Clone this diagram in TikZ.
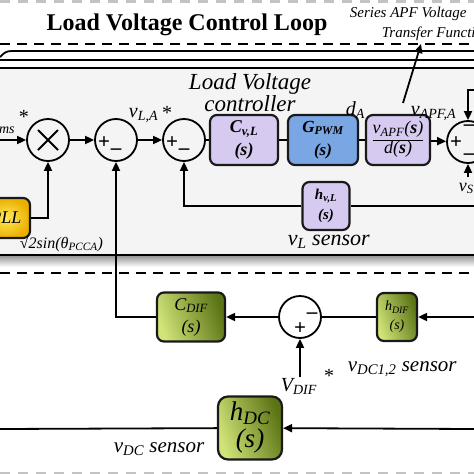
\documentclass[tikz,border=0pt]{standalone}
\usepackage{fontspec}
\setmainfont{Liberation Serif}
\usetikzlibrary{arrows.meta}
\definecolor{panel}{RGB}{244,244,244}
\definecolor{lav}{RGB}{214,202,240}
\definecolor{pblue}{RGB}{122,166,228}
\definecolor{gA}{RGB}{208,228,120}
\definecolor{gB}{RGB}{90,115,20}
\definecolor{yA}{RGB}{255,235,90}
\definecolor{yB}{RGB}{235,175,0}
\definecolor{dgray}{RGB}{195,195,195}
\newcommand\fs[1]{\fontsize{#1}{#1}\selectfont}
\newcommand\sbs[1]{\textsubscript{#1}}
\begin{document}
\begin{tikzpicture}[x=1pt,y=-1pt,line width=1.8pt,
  arr/.style={-{Triangle[length=9pt,width=8pt]}},
  blk/.style={draw=black!90,line width=2.2pt,rounded corners=7pt,inner sep=0pt,align=center},
  lavbox/.style={blk,fill=lav},
  greenbox/.style={blk,left color=gA,right color=gB,shading angle=110},
  sumc/.style={circle,draw,line width=1.8pt,minimum size=42pt,inner sep=0pt},
  lbl/.style={inner sep=0pt,anchor=base west,font=\itshape\fs{20}},
  sgn/.style={inner sep=0pt,font=\bfseries\fs{21}},
  ast/.style={inner sep=0pt,font=\fs{20}}]
\useasboundingbox (0,0) rectangle (474,474);
\fill[white] (0,0) rectangle (474,474);
% background frame lines
\draw[dgray,line width=3pt,dash pattern=on 10pt off 8pt] (0,1) -- (474,1);
\draw[dgray,line width=3pt,dash pattern=on 10pt off 8pt] (0,473) -- (474,473);
\fill[panel] (0,68) rectangle (474,255);
\shade[top color=black!40,bottom color=white] (0,256) rectangle (474,267);
\draw[dash pattern=on 10pt off 7pt] (0,44) -- (474,44);
\draw[dash pattern=on 10pt off 7pt] (0,273) -- (474,273);
\draw (0,57) .. controls (4,53) and (6,51) .. (12,51) -- (474,51);
\draw (0,60) -- (474,60);
\draw (0,68) -- (474,68);
\draw (0,255) -- (474,255);
% titles
\node[font=\bfseries\fs{24}] (title) at (187,25) {Load Voltage Control Loop};
\node[inner sep=0pt,anchor=base west,font=\itshape\fs{15}] (ser) at (349,17) {Series APF Voltage};
\node[inner sep=0pt,anchor=base west,font=\itshape\fs{15}] (tf) at (381,37) {Transfer Function};
\node[font=\itshape\fs{23}] (lvc1) at (250,84) {Load Voltage};
\node[font=\itshape\fs{23}] (lvc2) at (250,104) {controller};
% upper loop
\node[sumc] (m) at (48,140) {};
\draw[line width=2pt] (38,130) -- (58,150) (38,150) -- (58,130);
\node[sumc] (s2) at (116,140) {};
\node[sgn] (s2p) at (104,143) {+};
\node[sgn] (s2m) at (116,152) {--};
\node[sumc] (s3) at (184,140) {};
\node[sgn] (s3p) at (172,143) {+};
\node[sgn] (s3m) at (184,152) {--};
\node[sumc] (s4) at (468,142) {};
\node[sgn] (s4p) at (456,143) {+};
\node[sgn] (s4t) at (469,128) {--};
\node[sgn] (s4b) at (469,157) {--};
\node[lavbox,minimum width=68pt,minimum height=50pt,font=\bfseries\itshape\fontsize{18}{23}\selectfont] (C) at (244,140) {C\sbs{v,L}\\(s)};
\node[blk,fill=pblue,minimum width=70pt,minimum height=50pt,font=\bfseries\itshape\fontsize{17}{23}\selectfont] (G) at (323,140) {G\sbs{PWM}\\(s)};
\node[lavbox,minimum width=64pt,minimum height=50pt,font=\itshape\fs{18}] (V) at (398,140) {\setlength{\arrayrulewidth}{1.2pt}\begin{tabular}{@{}c@{}}v\sbs{APF}(\textbf{s})\\[1pt]\hline d(\textbf{s})\end{tabular}};
\node[lavbox,minimum width=47pt,minimum height=48pt,font=\bfseries\itshape\fontsize{15}{20}\selectfont] (hvl) at (326,206) {h\sbs{v,L}\\(s)};
\node[blk,inner color=yA,outer color=yB,minimum width=48pt,minimum height=40pt,font=\itshape\fs{18}] (pll) at (6,218) {PLL};
% labels upper
\node[lbl,anchor=base east,font=\itshape\fs{20}] (vin) at (16,130) {V\sbs{L,rms}};
\node[ast] (vinast) at (24,117) {*};
\node[lbl] (vla) at (128,117) {v\sbs{L,A}};
\node[ast] (vlaast) at (167,113) {*};
\node[lbl] (da) at (345,115) {d\sbs{A}};
\node[lbl] (vapf) at (410,115) {v\sbs{APF,A}};
\node[lbl,font=\itshape\fs{18}] (vs) at (458,191) {v\sbs{S}};
\node[lbl,font=\itshape\fs{16}] (sinl) at (19,248) {\textup{√}2sin(θ\sbs{PCCA})};
\node[lbl,font=\itshape\fs{22}] (vls) at (287,245) {v\sbs{L} sensor};
% upper connectors
\coordinate (in) at (0,140);
\draw[arr] (in) -- (m);
\draw[arr] (m) -- (s2);
\draw[arr] (s2) -- (s3);
\draw (s3) -- (C);
\draw (C) -- (G);
\draw (G) -- (V);
\draw[arr] (V) -- (s4);
\draw[arr] (pll.east) -| (m.south);
\coordinate (fbr) at (474,206);
\draw (fbr) -- (hvl.east);
\draw[arr] (hvl.west) -| (s3.south);
\coordinate (t1) at (474,90);
\draw[arr] (t1) -| (s4.north);
\coordinate (vsb) at (468,177);
\draw[arr] (vsb) -- (s4.south);
\coordinate (a1) at (403,103);
\coordinate (a2) at (421,44);
\draw[arr] (a1) -- (a2);
% lower section
\node[greenbox,minimum width=68pt,minimum height=49pt,font=\itshape\fontsize{18}{22}\selectfont] (cdif) at (191,317) {C\sbs{DIF}\\(s)};
\node[sumc] (s5) at (300,317) {};
\node[sgn] (s5m) at (312,316) {--};
\node[sgn] (s5p) at (300,329) {+};
\node[greenbox,minimum width=40pt,minimum height=48pt,font=\itshape\fontsize{14}{19}\selectfont] (hdif) at (397,317) {h\sbs{DIF}\\(s)};
\node[greenbox,minimum width=64pt,minimum height=63pt,rounded corners=10pt,font=\itshape\fontsize{27}{27}\selectfont] (hdc) at (250,428) {h\sbs{DC}\\(s)};
\node[lbl,font=\itshape\fs{21}] (vdcs12) at (347,371) {v\sbs{DC1,2} sensor};
\node[lbl,font=\itshape\fs{20}] (vdif) at (280,391) {V\sbs{DIF}};
\node[ast] (vdifast) at (329,376) {*};
\node[lbl,font=\itshape\fs{21}] (vdcs) at (113,452) {v\sbs{DC} sensor};
\coordinate (vd) at (300,377);
\draw[arr] (vd) -- (s5.south);
\draw[arr] (s5) -- (cdif);
\draw (hdif) -- (s5);
\coordinate (r1) at (474,317);
\draw[arr] (r1) -- (hdif);
\draw[arr] (cdif.west) -| (s2.south);
\coordinate (l2) at (0,429);
\coordinate (r2) at (474,429);
\draw (l2) -- (hdc);
\draw[arr] (r2) -- (hdc);
\end{tikzpicture}
\end{document}
